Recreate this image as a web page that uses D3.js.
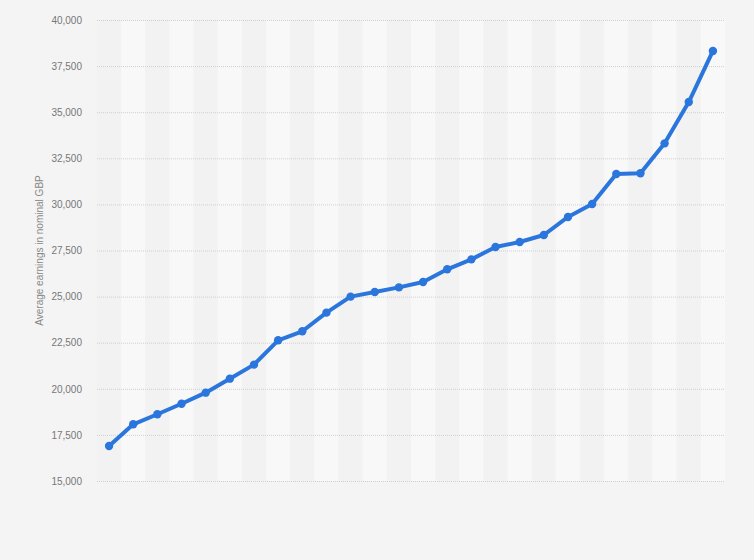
<!DOCTYPE html>
<html><head><meta charset="utf-8">
<script src="https://cdn.jsdelivr.net/npm/d3@7/dist/d3.min.js"></script>
<style>html,body{margin:0;padding:0;background:#f4f4f4;}svg{display:block;}</style>
</head><body>
<svg id="c" width="754" height="560"></svg>
<script>
const categories = ["1997","1998","1999","2000","2001","2002","2003","2004","2005","2006","2007","2008","2009","2010","2011","2012","2013","2014","2015","2016","2017","2018","2019","2020","2021","2022"];
const earnings = [16900,18075,18620,19190,19790,20550,21310,22630,23120,24130,25000,25250,25500,25790,26480,27020,27690,27960,28340,29320,30020,31650,31690,33310,35550,38320];
const yTicks = [15000,17500,20000,22500,25000,27500,30000,32500,35000,37500,40000];
const yTitle = "Average earnings in nominal GBP";

(function(){
const svg = d3.select("#c");
const pL = 97, pR = 725, pT = 20, pB = 481;
const font = "'Liberation Sans', Arial, sans-serif";
const x = d3.scaleBand().domain(categories).range([pL, pR]).padding(0);
const y = d3.scaleLinear().domain([15000, 40000]).range([pB, pT]);

svg.append("rect").attr("width",754).attr("height",560).attr("fill","#f4f4f4");

// alternating bands
svg.append("g").selectAll("rect").data(categories).join("rect")
  .attr("x", d => x(d)).attr("y", pT).attr("width", x.bandwidth()).attr("height", pB - pT)
  .attr("fill", (d,i) => i % 2 ? "#f8f8f8" : "#f2f2f2");

// y axis
const ya = svg.append("g").attr("transform", `translate(${pL},0)`)
  .call(d3.axisLeft(y).tickValues(yTicks).tickFormat(d3.format(",")).tickSize(-(pR-pL)).tickPadding(15));
ya.select(".domain").remove();
ya.selectAll(".tick line").attr("stroke","#cfcfcf").attr("stroke-dasharray","1,1").attr("stroke-width",1);
ya.selectAll(".tick text").attr("fill","#777").attr("font-family",font).attr("font-size","10px");

svg.append("text").attr("transform", `translate(43,${(pT+pB)/2}) rotate(-90)`)
  .attr("text-anchor","middle").attr("fill","#888").attr("font-family",font)
  .attr("font-size","10px").text(yTitle);

const cx = d => x(d) + x.bandwidth()/2;
const line = d3.line().x((d,i) => cx(categories[i])).y(d => y(d));
svg.append("path").datum(earnings).attr("d", line).attr("fill","none")
  .attr("stroke","#2a76dd").attr("stroke-width",4).attr("stroke-linejoin","round").attr("stroke-linecap","round");
svg.append("g").selectAll("circle").data(earnings).join("circle")
  .attr("cx",(d,i)=>cx(categories[i])).attr("cy", d=>y(d)).attr("r",4.2).attr("fill","#2a76dd");
})();
</script>
</body></html>
